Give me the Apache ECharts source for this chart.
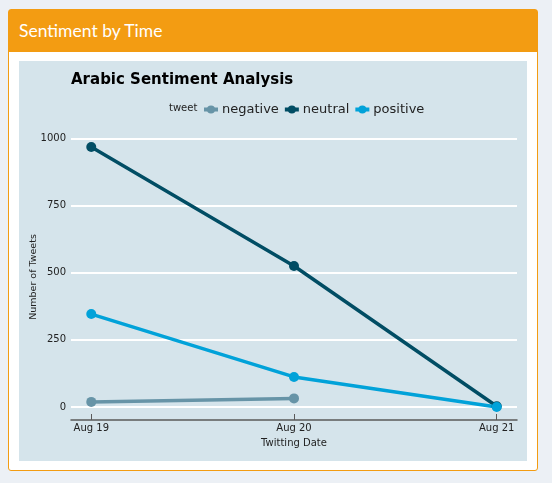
<!DOCTYPE html>
<html>
<head>
<meta charset="utf-8">
<script src="https://cdn.jsdelivr.net/npm/echarts@6/dist/echarts.min.js"></script>
<style>
html,body{margin:0;padding:0;background:#ecf0f5;width:552px;height:483px;overflow:hidden;}
#card{position:absolute;left:8px;top:9px;width:530px;height:462px;background:#fff;border:1px solid #f39c12;border-radius:3px;box-sizing:border-box;}
#hdr{position:absolute;left:0;top:0;right:0;height:42px;background:#f39c12;color:#fff;font-family:"Lato","Open Sans",sans-serif;font-size:17.5px;line-height:42px;padding-left:10px;}
#chart{position:absolute;left:19px;top:61px;width:508px;height:400px;background:#d5e4eb;}
</style>
</head>
<body>
<div id="card"><div id="hdr">Sentiment by Time</div></div>
<div id="chart"></div>
<script>
const dates = ['Aug 19', 'Aug 20', 'Aug 21'];
const negative = [19, 32, null];
const neutral = [968, 525, 3];
const positive = [346, 112, 0];
const yTicks = [0, 250, 500, 750, 1000];

function pts(arr){ return arr.map((v,i)=> v==null ? null : [i, v]).filter(p=>p); }

const chart = echarts.init(document.getElementById('chart'));
const font = 'DejaVu Sans';
chart.setOption({
  animation: false,
  backgroundColor: '#d5e4eb',
  title: {
    text: 'Arabic Sentiment Analysis',
    left: 52, top: 12, padding: 0,
    textStyle: {fontFamily: font, fontSize: 15, fontWeight: 'bold', color: '#000'}
  },
  graphic: [{
    type: 'text', left: 150, top: 42,
    style: {text: 'tweet', fontFamily: font, fontSize: 10, fill: '#222'}
  }],
  legend: {
    left: 183, top: 42, padding: 0, itemWidth: 14, itemHeight: 10, itemGap: 4,
    lineStyle: {width: 4},
    textStyle: {fontFamily: font, fontSize: 13, color: '#222', padding: [0,0,0,-1]},
    data: ['negative', 'neutral', 'positive']
  },
  grid: {left: 52, right: 10, top: 73, bottom: 41, outerBoundsMode: 'none', containLabel: false},
  xAxis: {
    type: 'value', min: -0.1, max: 2.1,
    name: 'Twitting Date', nameLocation: 'middle', nameGap: 18, nameMoveOverlap: false,
    nameTextStyle: {fontFamily: font, fontSize: 10, color: '#222'},
    axisLine: {show: true, onZero: false, lineStyle: {color: '#5a5a5a', width: 1.5}},
    axisTick: {show: true, inside: true, length: 6, lineStyle: {color: '#5a5a5a'}, customValues: [0,1,2]},
    axisLabel: {customValues: [0,1,2], formatter: v => dates[Math.round(v)], fontFamily: font, fontSize: 10, color: '#222', margin: 3},
    splitLine: {show: false}
  },
  yAxis: {
    type: 'value', min: -48.4, max: 1016.4,
    name: 'Number of Tweets', nameLocation: 'middle', nameGap: 32, nameRotate: 90, nameMoveOverlap: false,
    nameTextStyle: {fontFamily: font, fontSize: 9.5, color: '#222'},
    axisLine: {show: false},
    axisTick: {show: false, customValues: yTicks},
    axisLabel: {customValues: yTicks, formatter: v => String(v), fontFamily: font, fontSize: 10, color: '#222', margin: 5},
    splitLine: {show: true, lineStyle: {color: '#ffffff', width: 2}}
  },
  series: [
    {name: 'negative', type: 'line', data: pts(negative), color: '#6794a7', symbol: 'circle', symbolSize: 10, lineStyle: {width: 3.5}},
    {name: 'neutral', type: 'line', data: pts(neutral), color: '#014d64', symbol: 'circle', symbolSize: 10, lineStyle: {width: 3.5}},
    {name: 'positive', type: 'line', data: pts(positive), color: '#01a2d9', symbol: 'circle', symbolSize: 10, lineStyle: {width: 3.5}}
  ]
});
</script>
</body>
</html>
